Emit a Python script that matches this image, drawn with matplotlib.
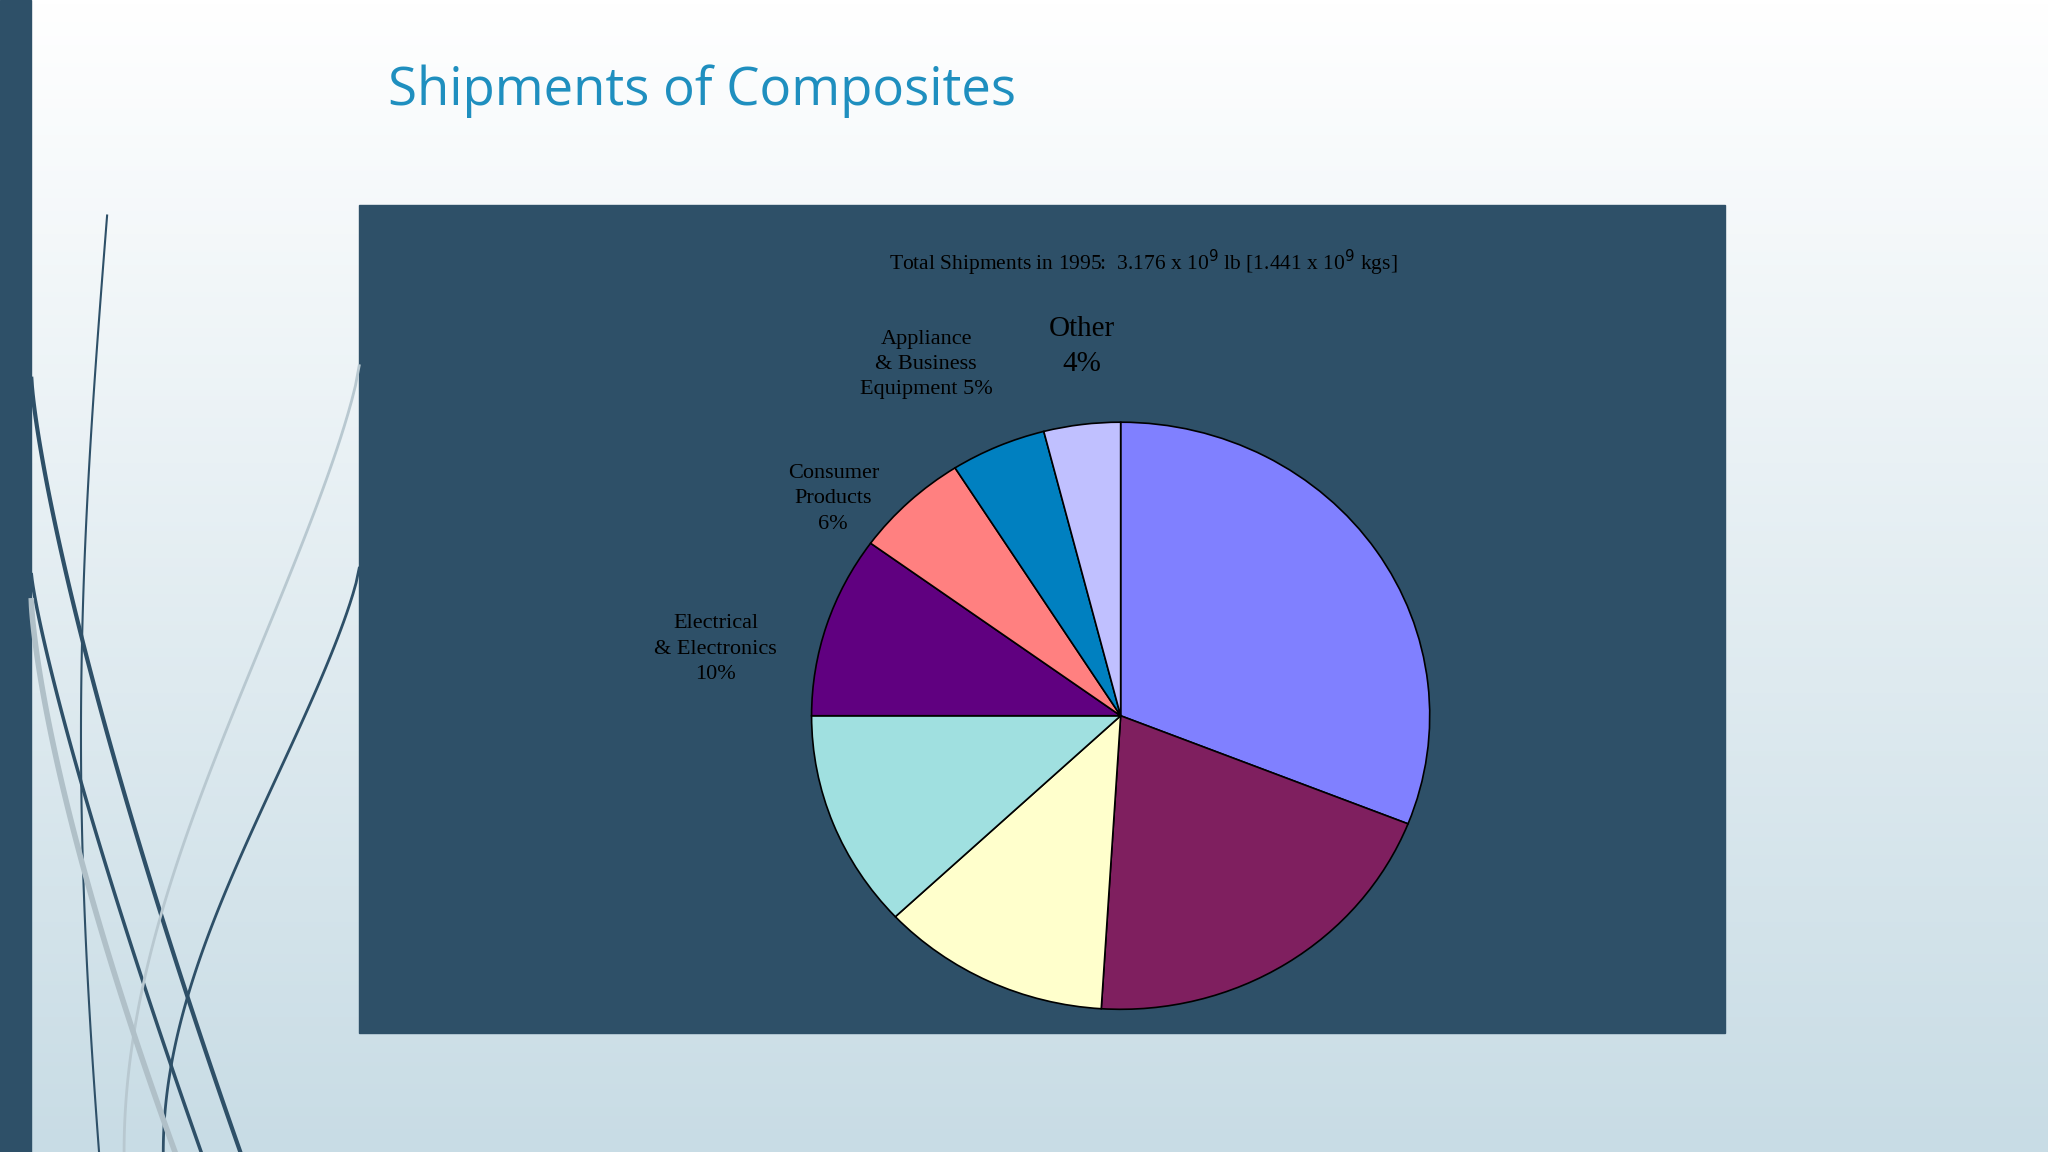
import numpy as np
import matplotlib
matplotlib.use("Agg")
import matplotlib.pyplot as plt

categories = ["Transportation", "Construction", "Marine", "Corrosion-\nResistant\nEquipment",
              "Electrical\n& Electronics", "Consumer\nProducts", "Appliance\n& Business\nEquipment", "Other"]
values = [31, 20, 12, 12, 10, 6, 5, 4]
colors = ["#8080ff", "#7f1f5f", "#ffffcc", "#a0e0e0", "#600080", "#ff8080", "#0080c0", "#c0c0ff"]
label_texts = ["Transportation\n31%", "Construction\n20%", "Marine\n12%",
               "Corrosion-\nResistant\nEquipment\n12%", "Electrical\n& Electronics\n10%",
               "Consumer\nProducts\n6%", "Appliance\n& Business\nEquipment 5%", "Other\n4%"]
# label positions in display pixels of a 1568x882 frame
label_pos = [(966, 500), (968, 688), (785, 711), (701, 612), (548, 497), (638, 382), (709, 279), (828, 265)]

W, H = 1568, 882
fig = plt.figure(figsize=(20.48, 11.52), dpi=100)

# background gradient
bg = fig.add_axes([0, 0, 1, 1])
grad = np.linspace(0, 1, 256).reshape(-1, 1)
from matplotlib.colors import LinearSegmentedColormap
cmap = LinearSegmentedColormap.from_list("bg", ["#ffffff", "#c8dce5"])
bg.imshow(grad, aspect="auto", cmap=cmap, extent=[0, W, H, 0])
bg.set_xlim(0, W); bg.set_ylim(H, 0); bg.axis("off")
bg.add_patch(plt.Rectangle((0, 0), 24, H, color="#2e5068"))
# decorative curves
t = np.linspace(0, 1, 100)
bg.plot(24 + 160 * t**1.3, 290 + 592 * t, color="#2e5068", lw=3)
bg.plot(24 + 130 * t**1.2, 440 + 442 * t, color="#2e5068", lw=2.5)
bg.plot(82 - 20 * np.sin(np.pi * t * 0.9), 165 + 717 * t, color="#2e5068", lw=1.5)
bg.plot(275 - 150 * np.sin(np.pi / 2 * t), 435 + 447 * t ** 0.8, color="#2e5068", lw=2)
bg.plot(275 - 180 * np.sin(np.pi / 2 * t), 280 + 602 * t ** 0.8, color="#b8c8d0", lw=2)
bg.plot(24 + 110 * t**1.4, 460 + 422 * t, color="#b0c0c8", lw=4)

# panel
bg.add_patch(plt.Rectangle((275, 157), 1046, 634, color="#2e5068"))
bg.text(297, 70, "Shipments of Composites", fontsize=38, color="#1f8fbf",
        family="Open Sans", va="center", ha="left")
bg.text(875, 201, r"Total Shipments in 1995:  3.176 x 10$^9$ lb [1.441 x 10$^9$ kgs]",
        fontsize=15.5, family="Liberation Serif", ha="center", va="center", color="black")

for txt, (x, y) in zip(label_texts, label_pos):
    big = txt.startswith("Other")
    bg.text(x, y, txt, fontsize=21 if big else 16, family="Liberation Serif",
            ha="center", va="center", color="black", linespacing=1.45)

cx, cy, rx, ry = 858, 548, 239, 227
ax = fig.add_axes([(cx - rx) / W, 1 - (cy + ry) / H, 2 * rx / W, 2 * ry / H])
ax.pie(values, colors=colors, startangle=90, counterclock=False,
       wedgeprops=dict(edgecolor="black", linewidth=1.2))
ax.set_aspect("auto")
ax.set_xlim(-1.01, 1.01); ax.set_ylim(-1.01, 1.01)
ax.axis("off")

fig.savefig("out.png", dpi=100)
